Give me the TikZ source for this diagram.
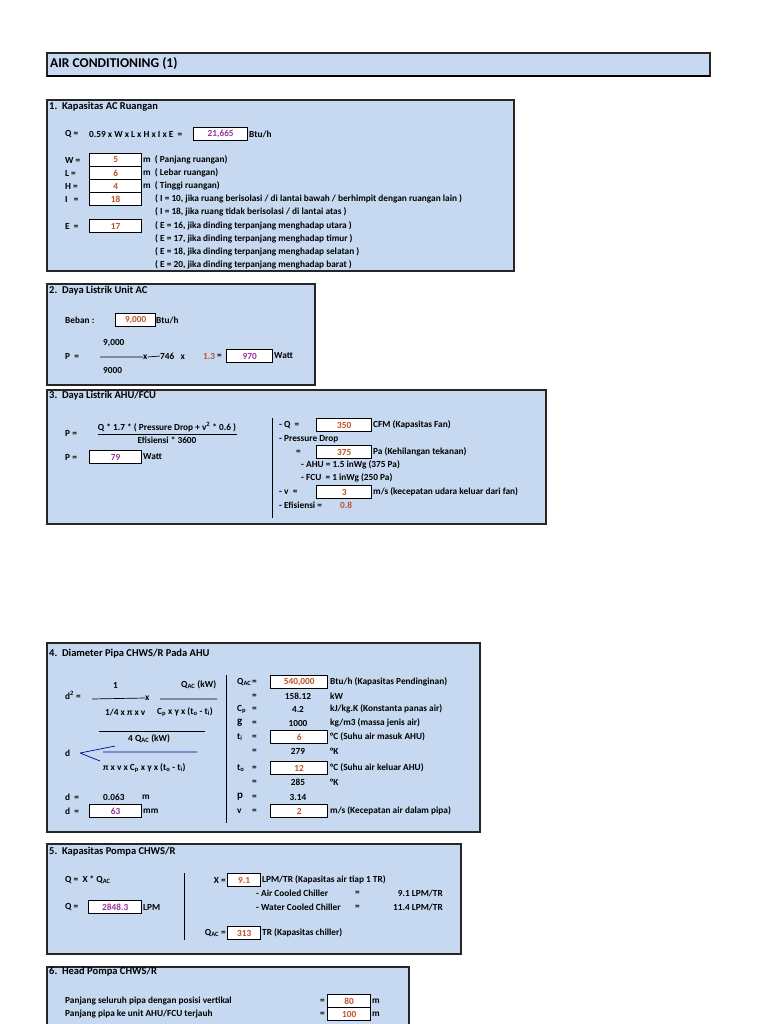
\documentclass[tikz,border=0pt]{standalone}
\usepackage{fontspec}
\setmainfont{Carlito}
\usetikzlibrary{positioning}
\definecolor{panel}{RGB}{198,217,241}
\definecolor{inval}{RGB}{192,80,40}
\definecolor{outval}{RGB}{153,51,153}
\tikzset{%
  panel/.style = {
    fill = panel,
    draw = black!85,
    line width = 1.5pt,
  },
  txt/.style = {
    anchor = west,
    inner sep = 0pt,
    font = \fontsize{9.3}{10}\selectfont\bfseries,
  },
  head/.style = {
    txt,
    font = \fontsize{10.5}{12}\selectfont\bfseries,
  },
  val/.style = {
    anchor = west,
    fill = white,
    draw = black,
    line width = 1.4pt,
    minimum height = 13pt,
    inner sep = 0pt,
    text = #1,
    font = \fontsize{9.3}{10}\selectfont\bfseries,
  },
  val/.default = {inval},
  rule/.style = {
    draw = black,
    line width = 0.7pt,
  },
}
\begin{document}
\begin{tikzpicture}[x=1pt, y=-1pt]
  \useasboundingbox (0,0) rectangle (768,1024);
  % title bar
  \fill[panel] (47,53) rectangle (710,76);
  \draw[line width=1.3pt] (47,76) -- (710,76);
  \node[txt, font=\fontsize{13.5}{15}\selectfont\bfseries] (title) at (50,64) {AIR CONDITIONING (1)};

  % 1. Kapasitas AC Ruangan
  \draw[panel] (47,100) rectangle (514,271);
  \node[head] (h1) at (49,107) {1.\ \ Kapasitas AC Ruangan};
  \node[txt] (q1) at (65,134) {Q =};
  \node[txt] (q1f) at (89,134) {0.59 x W x L x H x I x E\ \ =};
  \node[val=outval, minimum width=54] (q1v) at (193,134) {21,665};
  \node[txt] (q1u) at (249,134) {Btu/h};
  \foreach \nm/\y/\v/\t in {W/160/5/{m\ \ ( Panjang ruangan)}, L/173/6/{m\ \ ( Lebar ruangan)}, H/186/4/{m\ \ ( Tinggi ruangan)}}{
    \node[txt] (l\nm) at (65,\y) {\nm\ =};
    \node[val, minimum width=52] (v\nm) at (89,\y) {\v};
    \node[txt] (u\nm) at (143,\y) {\t};
  }
  \node[txt] (lI) at (65,199) {I\ \ \ =};
  \node[val, minimum width=52] (vI) at (89,199) {18};
  \node[txt] (lE) at (65,226) {E\ \ =};
  \node[val, minimum width=52] (vE) at (89,226) {17};
  \foreach \y/\t in {199/{( I = 10, jika ruang berisolasi / di lantai bawah / berhimpit dengan ruangan lain )},
      212/{( I = 18, jika ruang tidak berisolasi / di lantai atas )},
      226/{( E = 16, jika dinding terpanjang menghadap utara )},
      239/{( E = 17, jika dinding terpanjang menghadap timur )},
      252/{( E = 18, jika dinding terpanjang menghadap selatan )},
      265/{( E = 20, jika dinding terpanjang menghadap barat )}}{
    \node[txt] at (155,\y) {\t};
  }

  % 2. Daya Listrik Unit AC
  \draw[panel] (47,284) rectangle (315,385);
  \node[head] (h2) at (49,291) {2.\ \ Daya Listrik Unit AC};
  \node[txt] (beban) at (65,320) {Beban :};
  \node[val, minimum width=40] (vbeban) at (115,320) {9,000};
  \node[txt] (ubeban) at (156,320) {Btu/h};
  \node[txt] (num2) at (103,343) {9,000};
  \node[txt] (p2) at (65,356) {P\ \ =};
  \node[txt] (x2) at (143,357) {x};
  \node[txt] (f2) at (160,356) {746\ \ \ x};
  \node[txt, text=inval] (k2) at (203,356) {1.3};
  \node[txt] (e2) at (217,356) {=};
  \node[val=outval, minimum width=46] (vp2) at (226,356) {970};
  \node[txt] (up2) at (274,356) {Watt};
  \node[txt] (den2) at (103,370) {9000};
  \draw[rule] (100,357) -- (x2.west) (x2.east) -- (f2.west);

  % 3. Daya Listrik AHU/FCU
  \draw[panel] (47,390) rectangle (546,524);
  \node[head] (h3) at (49,396) {3.\ \ Daya Listrik AHU/FCU};
  \node[txt] (p3) at (65,433) {P =};
  \node[txt, anchor=center] (n3) at (167,427) {Q * 1.7 * ( Pressure Drop + v\textsuperscript{2} * 0.6 )};
  \node[txt, anchor=center] (d3) at (167,440) {Efisiensi * 3600};
  \draw[rule] (98,434) -- (237,434);
  \node[txt] (p3b) at (65,457) {P =};
  \node[val=outval, minimum width=52] (vp3) at (89,457) {79};
  \node[txt] (up3) at (143,457) {Watt};
  \draw[rule] (272,418) -- (272,518);
  \node[txt] (lq3) at (279,425) {- Q\ \ =};
  \node[val, minimum width=55] (vq3) at (316,425) {350};
  \node[txt] (uq3) at (373,425) {CFM (Kapasitas Fan)};
  \node[txt] (lpd) at (279,439) {- Pressure Drop};
  \node[txt] (epd) at (296,452) {=};
  \node[val, minimum width=55] (vpd) at (316,452) {375};
  \node[txt] (upd) at (373,452) {Pa (Kehilangan tekanan)};
  \node[txt] (ahu) at (301,465) {- AHU = 1.5 inWg (375 Pa)};
  \node[txt] (fcu) at (301,478) {- FCU\ \ = 1 inWg (250 Pa)};
  \node[txt] (lv3) at (279,492) {- v\ \ =};
  \node[val, minimum width=55] (vv3) at (316,492) {3};
  \node[txt] (uv3) at (373,492) {m/s (kecepatan udara keluar dari fan)};
  \node[txt] (lef) at (279,505) {- Efisiensi =};
  \node[txt, text=inval] (vef) at (340,505) {0.8};

  % 4. Diameter Pipa CHWS/R Pada AHU
  \draw[panel] (47,643) rectangle (480,832);
  \node[head] (h4) at (49,654) {4.\ \ Diameter Pipa CHWS/R Pada AHU};
  \node[txt] (one) at (113,685) {1};
  \node[txt] (qkw) at (181,685) {Q\textsubscript{AC} (kW)};
  \node[txt] (dsq) at (65,695) {d\textsuperscript{2} =};
  \node[txt] (x4) at (145,698) {x};
  \draw[rule] (92,699) -- (x4.west) (160,699) -- (217,699);
  \node[txt] (den4a) at (105,712) {1/4 x π x v};
  \node[txt] (den4b) at (157,712) {C\textsubscript{p} x γ x (t\textsubscript{o} - t\textsubscript{i})};
  \draw[rule] (99,731) -- (205,731);
  \node[txt] (n4) at (128,739) {4 Q\textsubscript{AC} (kW)};
  \node[txt] (d4) at (65,753) {d};
  \coordinate (root) at (80,753);
  \draw[rule, blue!60!black] (root) -- (115,746) (root) -- (100,761) (103,752) -- (197,752);
  \node[txt] (den4c) at (103,768) {π x v x C\textsubscript{p} x γ x (t\textsubscript{o} - t\textsubscript{i})};
  \node[txt] (dm) at (65,797) {d\ \ =};
  \node[txt] (dmv) at (103,797) {0.063};
  \node[txt] (dmu) at (142,797) {m};
  \node[txt] (dmm) at (65,811) {d\ \ =};
  \node[val=outval, minimum width=52] (vdmm) at (89,811) {63};
  \node[txt] (udmm) at (143,811) {mm};
  \draw[rule] (226,675) -- (226,823);
  \foreach \y/\l/\v/\bx/\u in {682/{Q\textsubscript{AC}}/{540,000}/1/{Btu/h (Kapasitas Pendinginan)},
      696/{}/{158.12}/0/{kW},
      709/{C\textsubscript{p}}/{4.2}/0/{kJ/kg.K (Konstanta panas air)},
      723/{\fontsize{11}{12}\selectfont g}/{1000}/0/{kg/m3 (massa jenis air)},
      737/{t\textsubscript{i}}/{6}/1/{°C (Suhu air masuk AHU)},
      751/{}/{279}/0/{°K},
      768/{t\textsubscript{o}}/{12}/1/{°C (Suhu air keluar AHU)},
      782/{}/{285}/0/{°K},
      797/{\fontsize{11}{12}\selectfont p}/{3.14}/0/{},
      811/{v}/{2}/1/{m/s (Kecepatan air dalam pipa)}}{
    \node[txt] at (237,\y) {\l};
    \node[txt] at (252,\y) {=};
    \ifnum\bx=1
      \node[val, minimum width=57] at (270,\y) {\v};
    \else
      \node[txt, anchor=center] at (298,\y) {\v};
    \fi
    \node[txt] at (330,\y) {\u};
  }

  % 5. Kapasitas Pompa CHWS/R
  \draw[panel] (47,844) rectangle (461,954);
  \node[head] (h5) at (49,852) {5.\ \ Kapasitas Pompa CHWS/R};
  \node[txt] (q5) at (65,880) {Q =\ \ X * Q\textsubscript{AC}};
  \node[txt] (q5b) at (65,907) {Q =};
  \node[val=outval, minimum width=53] (vq5) at (88,907) {2848.3};
  \node[txt] (uq5) at (143,907) {LPM};
  \draw[rule] (184,873) -- (184,940);
  \node[txt, anchor=east] (lx5) at (226,880) {X =};
  \node[val, minimum width=33] (vx5) at (227,880) {9.1};
  \node[txt] (ux5) at (262,880) {LPM/TR (Kapasitas air tiap 1 TR)};
  \node[txt] (acc) at (256,893) {- Air Cooled Chiller};
  \node[txt] (wcc) at (256,907) {- Water Cooled Chiller};
  \node[txt] at (355,893) {=};
  \node[txt] at (355,907) {=};
  \node[txt, anchor=east] (accv) at (443,893) {9.1 LPM/TR};
  \node[txt, anchor=east] (wccv) at (443,907) {11.4 LPM/TR};
  \node[txt, anchor=east] (lqac) at (226,933) {Q\textsubscript{AC} =};
  \node[val, minimum width=33] (vqac) at (227,933) {313};
  \node[txt] (uqac) at (262,933) {TR (Kapasitas chiller)};

  % 6. Head Pompa CHWS/R
  \draw[panel] (47,967) rectangle (409,1030);
  \node[head] (h6) at (49,972) {6.\ \ Head Pompa CHWS/R};
  \node[txt] (pv) at (65,1001) {Panjang seluruh pipa dengan posisi vertikal};
  \node[txt] (pa) at (65,1014) {Panjang pipa ke unit AHU/FCU terjauh};
  \node[txt] at (320,1001) {=};
  \node[txt] at (320,1014) {=};
  \node[val, minimum width=43] (vpv) at (327,1001) {80};
  \node[val, minimum width=43] (vpa) at (327,1014) {100};
  \node[txt] at (372,1001) {m};
  \node[txt] at (372,1014) {m};
\end{tikzpicture}
\end{document}
